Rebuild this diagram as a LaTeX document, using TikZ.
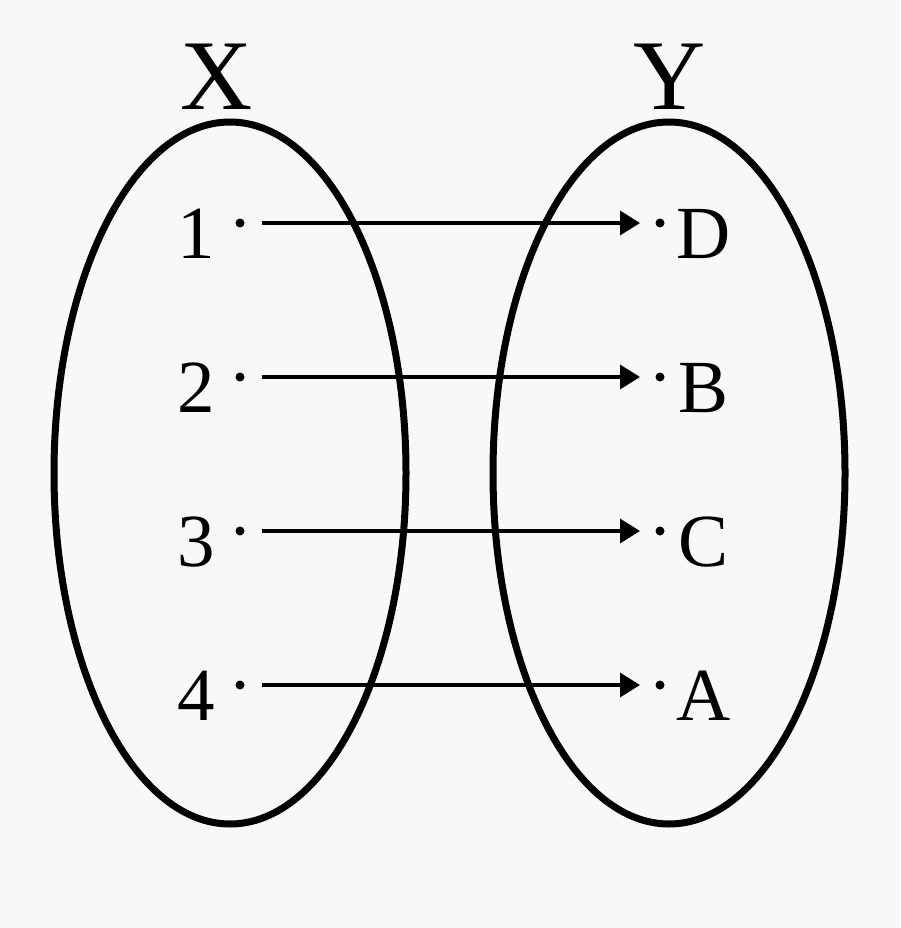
\documentclass[tikz,border=0pt]{standalone}
\usepackage{fontspec}
\setmainfont{Liberation Serif}
\usetikzlibrary{arrows.meta}
\definecolor{bg}{HTML}{F8F8F8}
\begin{document}
\begin{tikzpicture}[x=1pt,y=-1pt,
  setell/.style={draw=black,line width=7pt},
  lab/.style={font=\fontsize{75}{75}\selectfont,inner sep=0pt},
  big/.style={font=\fontsize{100}{100}\selectfont,inner sep=0pt},
  arr/.style={line width=3.5pt,-{Triangle[length=20pt,width=24pt]}}]
\fill[bg] (0,0) rectangle (900,928);
\useasboundingbox (0,0) rectangle (900,928);
\draw[setell] (230,473) ellipse [x radius=176, y radius=351];
\draw[setell] (669,473) ellipse [x radius=176, y radius=351];
\node[big] (X) at (217,77) {X};
\node[big] (Y) at (670,77) {Y};
\foreach \i/\n/\l/\y in {1/1/D/223,2/2/B/377,3/3/C/531,4/4/A/685}{
  \coordinate (a\i) at (240,\y);
  \coordinate (b\i) at (660,\y);
  \fill (a\i) circle [radius=4.5];
  \fill (b\i) circle [radius=4.5];
  \node[lab] (n\i) at (196,\y+11) {\n};
  \node[lab] (l\i) at (704,\y+11) {\l};
  \coordinate (s\i) at (262,\y);
  \coordinate (t\i) at (640,\y);
  \draw[arr] (s\i) -- (t\i);
}
\end{tikzpicture}
\end{document}
